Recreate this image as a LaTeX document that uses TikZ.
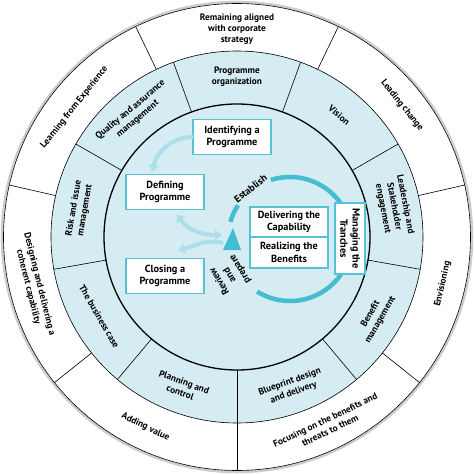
\documentclass[tikz,border=0pt]{standalone}
\usepackage{fontspec}
\setmainfont{PT Sans}
\usetikzlibrary{arrows.meta}
\definecolor{ringblue}{HTML}{D4ECF2}
\definecolor{arcteal}{HTML}{45BDD0}
\definecolor{boxteal}{HTML}{55C3D3}
\definecolor{palearrow}{HTML}{AEDEE9}
\tikzset{
  seglabel/.style={font=\bfseries\fontsize{9.3}{11.3}\selectfont, align=center, inner sep=0pt},
  procbox/.style={draw=boxteal, line width=1.2pt, fill=white, outer sep=0pt,
    font=\bfseries\fontsize{10.3}{12.3}\selectfont, align=center,
    minimum width=78pt, minimum height=35pt, inner sep=1pt},
  flowarrow/.style={palearrow, line width=4pt, -{Triangle[width=10pt,length=7pt]}},
  tealarc/.style={arcteal, line width=4.5pt},
  divider/.style={line width=0.6pt},
}
\begin{document}
\begin{tikzpicture}[x=1pt,y=1pt]
\useasboundingbox (-237,-237) rectangle (237,237);
% rings
\draw[gray!40, line width=2.5pt] (0,0) circle (235);
\draw[fill=white, divider] (0,0) circle (233.5);
\draw[fill=ringblue, divider] (0,0) circle (186);
\draw[line width=1.3pt] (0,0) circle (133);
\foreach \a in {270,321.43,12.86,64.29,115.71,167.14,218.57}
  \draw[divider] (\a:186) -- (\a:233.5);
\foreach \a in {270,310,...,590}
  \draw[divider] (\a:133) -- (\a:186);
% outer ring
\node[seglabel] (aligned) at (90:208) {Remaining aligned\\with corporate\\strategy};
\node[seglabel, rotate=-51.43] (change) at (38.57:211) {Leading change};
\node[seglabel, rotate=51.43] (learning) at (141.43:208) {Learning from Experience};
\node[seglabel, rotate=-76] (designing) at (193.5:209) {Designing and delivering a\\coherent capability};
\node[seglabel, rotate=-25.71] (value) at (244.29:211) {Adding value};
\node[seglabel, rotate=25.71] (focusing) at (295.71:209) {Focusing on the benefits and\\threats to them};
\node[seglabel, rotate=77.14] (envisioning) at (347.14:211) {Envisioning};
% middle ring
\node[seglabel] (organization) at (90:160) {Programme\\organization};
\node[seglabel, rotate=-40] (vision) at (50:159) {Vision};
\node[seglabel, rotate=-79] (leadership) at (11:160) {Leadership and\\Stakeholder\\engagement};
\node[seglabel, rotate=60] (benefit) at (330:160) {Benefit\\management};
\node[seglabel, rotate=20] (blueprint) at (290:160) {Blueprint design\\and delivery};
\node[seglabel, rotate=-20] (planning) at (250:160) {Planning and\\control};
\node[seglabel, rotate=-60] (business) at (210:159) {The business case};
\node[seglabel, rotate=80] (risk) at (170:160) {Risk and issue\\management};
\node[seglabel, rotate=40] (quality) at (130:160) {Quality and assurance\\management};
% tranche cycle
\coordinate (hub) at (53,-2);
\draw[tealarc] ([shift={(164:62)}]hub) arc[start angle=164, end angle=147, radius=62];
\draw[tealarc] ([shift={(108:62)}]hub) arc[start angle=108, end angle=-122, radius=62];
\node[seglabel, font=\bfseries\fontsize{10}{12}\selectfont, rotate=38] (establish) at ([shift={(128:64)}]hub) {Establish};
\node[seglabel, font=\bfseries\fontsize{9.8}{12}\selectfont, rotate=121] (review) at ([shift={(211:70)}]hub) {Review\\and\\prepare};
\fill[arcteal] (-4,9) -- (-14,-13) -- (4,-13) -- cycle;
\coordinate (triin) at (-15,2);
\coordinate (triout) at (-14,-6);
% processes
\node[procbox] (identify) at (-5,100) {Identifying a\\Programme};
\node[procbox] (define) at (-72,45) {Defining\\Programme};
\node[procbox] (close) at (-72,-39) {Closing a\\Programme};
\node[procbox, minimum height=30pt] (deliver) at (52,15) {Delivering the\\Capability};
\node[procbox, minimum height=31pt, anchor=north] (realize) at (deliver.south) {Realizing the\\Benefits};
\node[procbox, rotate=-90, minimum width=71pt, minimum height=30pt] (tranches) at (113,-1.5) {Managing the\\Tranches};
% flows
\draw[flowarrow] (identify.west) to[out=180, in=75] ([xshift=-13pt, yshift=3pt]define.north);
\draw[flowarrow, {Triangle[width=10pt,length=7pt]}-{Triangle[width=10pt,length=7pt]}]
  ([xshift=12pt, yshift=-5pt]define.south) to[out=-55, in=180] (triin);
\draw[flowarrow] (triout) to[out=165, in=15] ([xshift=13pt, yshift=8pt]close.north);
\end{tikzpicture}
\end{document}
